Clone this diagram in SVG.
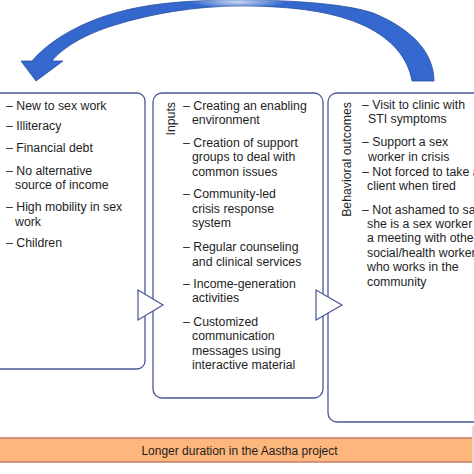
<svg xmlns="http://www.w3.org/2000/svg" width="474" height="474" viewBox="0 0 474 474">
<style>
.box{fill:#ffffff;stroke:#4a5794;stroke-width:1.3}
.tri{fill:#ffffff;stroke:#4a5794;stroke-width:1.2;stroke-linejoin:miter}
.t{font-family:"Liberation Sans",Arial,sans-serif;font-size:12.3px;fill:#1e1e1e}
.lab{font-family:"Liberation Sans",Arial,sans-serif;font-size:12.3px;fill:#1e1e1e;text-anchor:end}
.bar{fill:#fdb67c;stroke:#c57f68;stroke-width:1.5}
</style>
<defs>
<radialGradient id="glare" cx="0.5" cy="0.5" r="0.5">
<stop offset="0" stop-color="#ffffff" stop-opacity="0.75"/>
<stop offset="1" stop-color="#ffffff" stop-opacity="0"/>
</radialGradient>
</defs>
<rect x="0" y="0" width="474" height="474" fill="#ffffff"/>

<g id="feedback-arrow">
<path d="M434,81 C434,55 415,30 373,13 C350,5 300,0 240,0 C190,0 150,3 115,13 C80,23 50,40 32,61 L21,61 L36,81 L63,61 L52,61 C62,48 85,34 115,25 C150,14 195,6 240,6 C295,6 335,12 365,26 C392,39 408,58 412,81 Z" fill="#3468cf" stroke="#2a4f9c" stroke-width="0.8" stroke-linejoin="miter"/>
<ellipse cx="238" cy="2" rx="48" ry="6" fill="url(#glare)"/>
</g>

<g id="node-context">
<rect class="box" x="-10" y="93" width="155" height="276" rx="8"/>
<text class="t">
<tspan x="6" y="109.5">– New to sex work</tspan>
<tspan x="6" y="130">– Illiteracy</tspan>
<tspan x="6" y="152">– Financial debt</tspan>
<tspan x="6" y="174.5">– No alternative</tspan>
<tspan x="15" y="189">source of income</tspan>
<tspan x="6" y="211">– High mobility in sex</tspan>
<tspan x="15" y="225.5">work</tspan>
<tspan x="6" y="247">– Children</tspan>
</text>
</g>

<g id="node-inputs">
<rect class="box" x="153" y="93" width="170" height="305" rx="9"/>
<text class="lab" transform="translate(175,102) rotate(-90)">Inputs</text>
<text class="t">
<tspan x="183" y="109.5">– Creating an enabling</tspan>
<tspan x="192" y="124">environment</tspan>
<tspan x="183" y="147">– Creation of support</tspan>
<tspan x="192" y="161">groups to deal with</tspan>
<tspan x="192" y="175.5">common issues</tspan>
<tspan x="183" y="198">– Community-led</tspan>
<tspan x="192" y="213">crisis response</tspan>
<tspan x="192" y="227">system</tspan>
<tspan x="183" y="251">– Regular counseling</tspan>
<tspan x="192" y="266">and clinical services</tspan>
<tspan x="183" y="288">– Income-generation</tspan>
<tspan x="192" y="302">activities</tspan>
<tspan x="183" y="326">– Customized</tspan>
<tspan x="192" y="340">communication</tspan>
<tspan x="192" y="354.5">messages using</tspan>
<tspan x="192" y="369">interactive material</tspan>
</text>
</g>

<g id="node-outcomes">
<rect class="box" x="328" y="93" width="160" height="329" rx="9"/>
<text class="lab" transform="translate(351,102) rotate(-90)">Behavioral outcomes</text>
<text class="t">
<tspan x="362" y="108.5">– Visit to clinic with</tspan>
<tspan x="368" y="123">STI symptoms</tspan>
<tspan x="362" y="146">– Support a sex</tspan>
<tspan x="368" y="160.5">worker in crisis</tspan>
<tspan x="362" y="175.5">– Not forced to take a</tspan>
<tspan x="367" y="190">client when tired</tspan>
<tspan x="362" y="214">– Not ashamed to sa</tspan>
<tspan x="367" y="228">she is a sex worker</tspan>
<tspan x="367" y="242">a meeting with othe</tspan>
<tspan x="367" y="257">social/health worker</tspan>
<tspan x="367" y="271">who works in the</tspan>
<tspan x="367" y="286">community</tspan>
</text>
</g>

<g id="connectors">
<polygon class="tri" points="138,290 138,320 163,305"/>
<polygon class="tri" points="316,290 316,320 342,305"/>
</g>

<g id="node-duration">
<rect class="bar" x="-2" y="438" width="478" height="24"/>
<text class="t" x="239.5" y="455" text-anchor="middle" style="font-size:12px">Longer duration in the Aastha project</text>
</g>
<rect x="472" y="426" width="2" height="48" fill="#f2d2d6"/>
</svg>
